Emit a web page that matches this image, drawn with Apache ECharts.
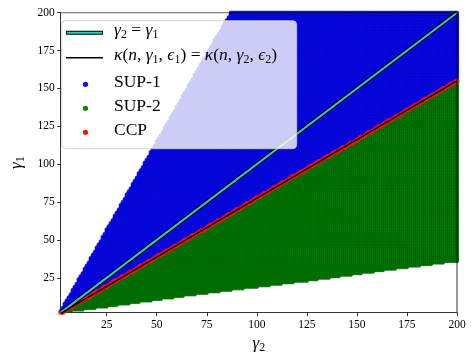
<!DOCTYPE html>
<html><head><meta charset="utf-8">
<script src="https://cdn.jsdelivr.net/npm/echarts@6/dist/echarts.min.js"></script>
<style>html,body{margin:0;padding:0;background:#fff}#c{width:474px;height:359px}</style>
</head><body><div id="c"></div>
<script>
// ---- data ----
const gamma2Samples   = [2, 25, 50, 75, 100, 125, 150, 175, 200];
const sup2LowerGamma1 = [2, 6, 10.5, 15, 19, 23, 27.5, 32, 36];
const ccpGamma1       = [1.5, 19.4, 38.8, 58, 77.5, 97, 116, 135.6, 155];
const sup1UpperGamma2 = [2, 13.9, 25, 50, 75, 87, 200];
const sup1UpperGamma1 = [3.4, 31, 57, 115, 173, 200, 200];
const xTicks = [25, 50, 75, 100, 125, 150, 175, 200];
const yTicks = [25, 50, 75, 100, 125, 150, 175, 200];
const gridMin = 2, gridMax = 200;

function at(xs, arr, x){
  for (let i=0;i<xs.length-1;i++){
    const a=xs[i], b=xs[i+1];
    if (x>=a && x<=b){ const t=(x-a)/(b-a); return arr[i]+(arr[i+1]-arr[i])*t; }
  }
  return arr[arr.length-1];
}
const sup1=[], sup2=[], ccp=[];
for (let x=gridMin; x<=gridMax; x++){
  const lo=at(gamma2Samples,sup2LowerGamma1,x), c=Math.round(at(gamma2Samples,ccpGamma1,x)), up=at(sup1UpperGamma2,sup1UpperGamma1,x);
  for (let y=gridMin; y<=gridMax; y++){
    if (y===c) ccp.push([x,y]);
    else if (y>c && y<=up) sup1.push([x,y]);
    else if (y<c && y>=lo) sup2.push([x,y]);
  }
}
const eqLine = [[gridMin,gridMin],[gridMax,gridMax]];
const kappaLine = [[gamma2Samples[0],ccpGamma1[0]],[gamma2Samples[gamma2Samples.length-1],ccpGamma1[ccpGamma1.length-1]]];

const chart = echarts.init(document.getElementById('c'), null, {renderer:'canvas'});
const serif = 'Liberation Serif, DejaVu Serif, serif';
const L=52, R=457, T=12.7, B=312.7;
const CYAN='#36c8c0';
function scat(name, data, color, border){
  return {name, type:'scatter', data, symbol:'circle', symbolSize:3.4, silent:true,
    progressive:0, animation:false, z:2,
    itemStyle:{color, borderColor:border, borderWidth:0.6, opacity:1}};
}
const lx=61.7, ly=20.7, lw=235, lh=128;
const rows=[32.7, 57.7, 84.3, 108.3, 132.3];
const FS=17.5;
const rich={i:{fontStyle:'italic', fontSize:FS, fontFamily:serif}, s:{fontStyle:'normal', fontSize:12, fontFamily:serif, padding:[8,0,0,0]}, n:{fontSize:FS,fontFamily:serif}};
const ZL=3;
const txt=(x,y,text)=>({type:'text', left:x, top:y-11, zlevel:ZL, z:102, style:{text, font:FS+'px '+serif, fill:'#000', rich}});
const axRich={i:{fontStyle:'italic', fontSize:17, fontFamily:serif, color:'#000'}, s:{fontSize:12, fontFamily:serif, color:'#000', padding:[8,0,0,0]}};
chart.setOption({
  animation:false,
  grid:{left:L, right:474-R, top:T, bottom:359-B, containLabel:false},
  xAxis:{type:'value', min:gridMin, max:gridMax, name:'{i|γ}{s|2}', nameLocation:'middle', nameGap:16,
    nameTextStyle:{rich:axRich},
    axisLine:{show:true, onZero:false, lineStyle:{color:'#000', width:0.8}},
    axisTick:{show:true, length:3.5, customValues:xTicks, lineStyle:{color:'#000', width:0.8}},
    axisLabel:{customValues:xTicks, fontFamily:serif, fontSize:11.5, color:'#000', margin:6},
    splitLine:{show:false}},
  yAxis:{type:'value', min:gridMin, max:gridMax, name:'{i|γ}{s|1}', nameLocation:'middle', nameGap:31, nameRotate:90,
    nameTextStyle:{rich:axRich},
    axisLine:{show:true, onZero:false, lineStyle:{color:'#000', width:0.8}},
    axisTick:{show:true, length:3.5, customValues:yTicks, lineStyle:{color:'#000', width:0.8}},
    axisLabel:{customValues:yTicks, fontFamily:serif, fontSize:11.5, color:'#000', margin:6},
    splitLine:{show:false}},
  series:[
    scat('SUP-1', sup1, '#1010ff', '#0000b8'),
    scat('SUP-2', sup2, '#0a880a', '#005800'),
    {name:'CCP', type:'scatter', data:ccp, symbol:'circle', symbolSize:5, silent:true, progressive:0, itemStyle:{color:'#ff1010'}, z:3},
    {type:'line', data:eqLine, symbol:'none', silent:true, lineStyle:{color:'#000', width:4}, z:4},
    {type:'line', data:eqLine, symbol:'none', silent:true, lineStyle:{color:CYAN, width:2}, z:5},
    {type:'line', data:kappaLine, symbol:'none', silent:true, lineStyle:{color:'#000', width:1.5}, z:6},
    {type:'line', data:[[gridMin,gridMax],[gridMax,gridMax],[gridMax,gridMin]], symbol:'none', silent:true, lineStyle:{color:'#000', width:0.8}, z:7}
  ],
  graphic:[
    {type:'rect', zlevel:ZL, z:100, shape:{x:lx, y:ly, width:lw, height:lh, r:4}, style:{fill:'rgba(255,255,255,0.8)', stroke:'rgba(204,204,204,0.8)', lineWidth:1}},
    {type:'line', zlevel:ZL, z:101, shape:{x1:66, y1:rows[0], x2:103, y2:rows[0]}, style:{stroke:'#000', lineWidth:4}},
    {type:'line', zlevel:ZL, z:101, shape:{x1:67, y1:rows[0], x2:102, y2:rows[0]}, style:{stroke:CYAN, lineWidth:2}},
    {type:'line', zlevel:ZL, z:101, shape:{x1:66, y1:rows[1], x2:103, y2:rows[1]}, style:{stroke:'#000', lineWidth:1.5}},
    {type:'circle', zlevel:ZL, z:101, shape:{cx:85.5, cy:rows[2], r:2.6}, style:{fill:'#1010ff'}},
    {type:'circle', zlevel:ZL, z:101, shape:{cx:85.5, cy:rows[3], r:2.6}, style:{fill:'#0a880a'}},
    {type:'circle', zlevel:ZL, z:101, shape:{cx:85.5, cy:rows[4], r:2.6}, style:{fill:'#ff1010'}},
    txt(114, rows[0], '{i|γ}{s|2}{n| = }{i|γ}{s|1}'),
    txt(114, rows[1], '{i|κ}{n|(}{i|n}{n|, }{i|γ}{s|1}{n|, }{i|ϵ}{s|1}{n|) = }{i|κ}{n|(}{i|n}{n|, }{i|γ}{s|2}{n|, }{i|ϵ}{s|2}{n|)}'),
    txt(114, rows[2], '{n|SUP-1}'),
    txt(114, rows[3], '{n|SUP-2}'),
    txt(114, rows[4], '{n|CCP}')
  ]
});
</script></body></html>
